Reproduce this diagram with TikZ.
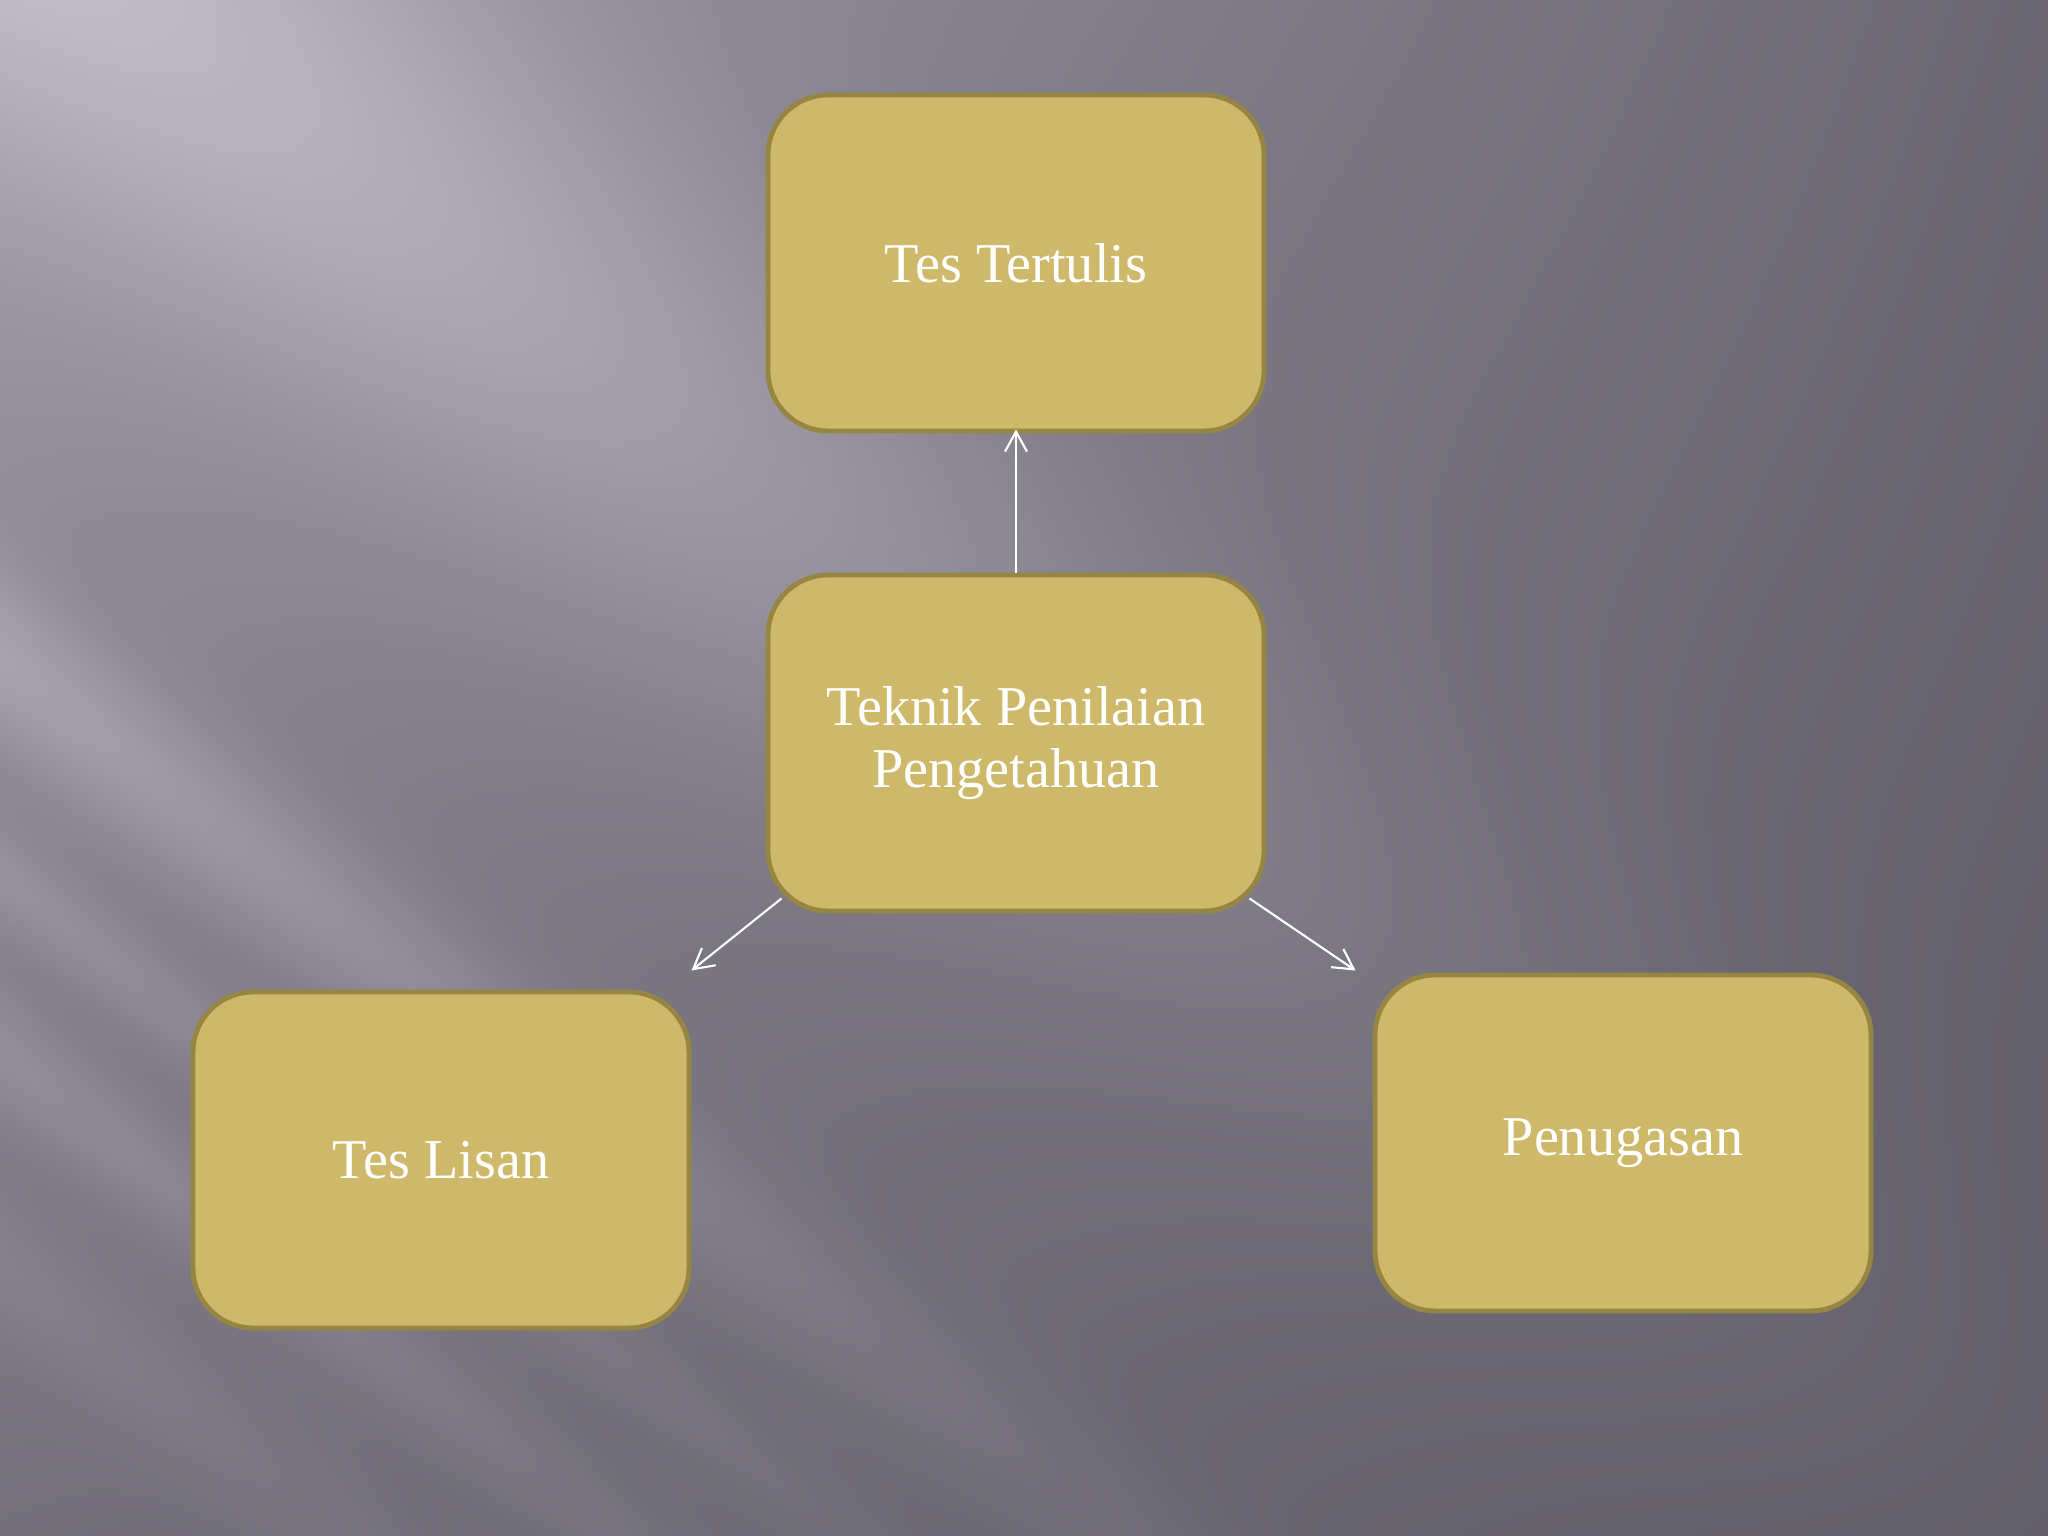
\documentclass[tikz,border=0pt]{standalone}
\usepackage{fontspec}
\setmainfont{Liberation Serif}
\usetikzlibrary{arrows.meta}
\definecolor{boxfill}{HTML}{CDB969}
\definecolor{boxline}{HTML}{978543}
% background: grey gradient with soft light streaks
\pgfdeclarefunctionalshading{bgstreaks}{\pgfpointorigin}{\pgfpoint{580.54bp}{435.40bp}}{}{
  3.5278 mul 1536 exch sub exch 3.5278 mul exch
  2 copy 2 copy mul 0.00000004 mul 3 1 roll
  -0.00011 mul exch -0.0001 mul add add 0.62 add 3 1 roll
  2 copy 0.616 mul exch 0.788 mul add 3 1 roll
  0.788 mul exch -0.616 mul add
  dup -80 sub 230 div dup mul neg 2.71828 exch exp 0.14 mul exch
  dup 520 sub 70 div dup mul neg 2.71828 exch exp 0.11 mul exch
  dup 690 sub 40 div dup mul neg 2.71828 exch exp 0.07 mul exch
  dup 830 sub 50 div dup mul neg 2.71828 exch exp 0.08 mul exch
  dup 1000 sub 60 div dup mul neg 2.71828 exch exp 0.05 mul exch
  pop add add add add exch
  1600 div dup mul neg 2.71828 exch exp mul add
  dup dup 0.975 mul exch 0.03 add
}

\begin{document}
\begin{tikzpicture}[box/.style={draw=boxline, fill=boxfill, line width=1.4pt, rounded corners=0.6cm, minimum width=4.96cm, minimum height=3.36cm, inner sep=0pt, align=center, text=white, font=\fontsize{16}{17.5}\selectfont},
  link/.style={draw=white, line width=0.6pt, -{Straight Barb[length=2mm,width=2.2mm]}}]
\useasboundingbox (0,0) rectangle (20.48,15.36);
\node[inner sep=0pt, outer sep=0pt, anchor=south west] (bg) at (0,0) {\pgfuseshading{bgstreaks}};
% boxes
\node[box] (tertulis) at (10.16,12.73) {Tes Tertulis};
\node[box] (teknik) at (10.16,7.93) {Teknik Penilaian\\Pengetahuan};
\node[box] (lisan) at (4.41,3.76) {Tes Lisan};
\node[box] (penugasan) at (16.23,3.93) {Penugasan};
% arrows
\draw[link] (teknik.north) -- ([yshift=0.04cm]tertulis.south);
\draw[link] ([shift={(0.16,0.15)}]teknik.south west) -- ([shift={(0,0.19)}]lisan.north east);
\draw[link] ([shift={(-0.17,0.15)}]teknik.south east) -- ([shift={(-0.17,0.02)}]penugasan.north west);
\end{tikzpicture}
\end{document}
